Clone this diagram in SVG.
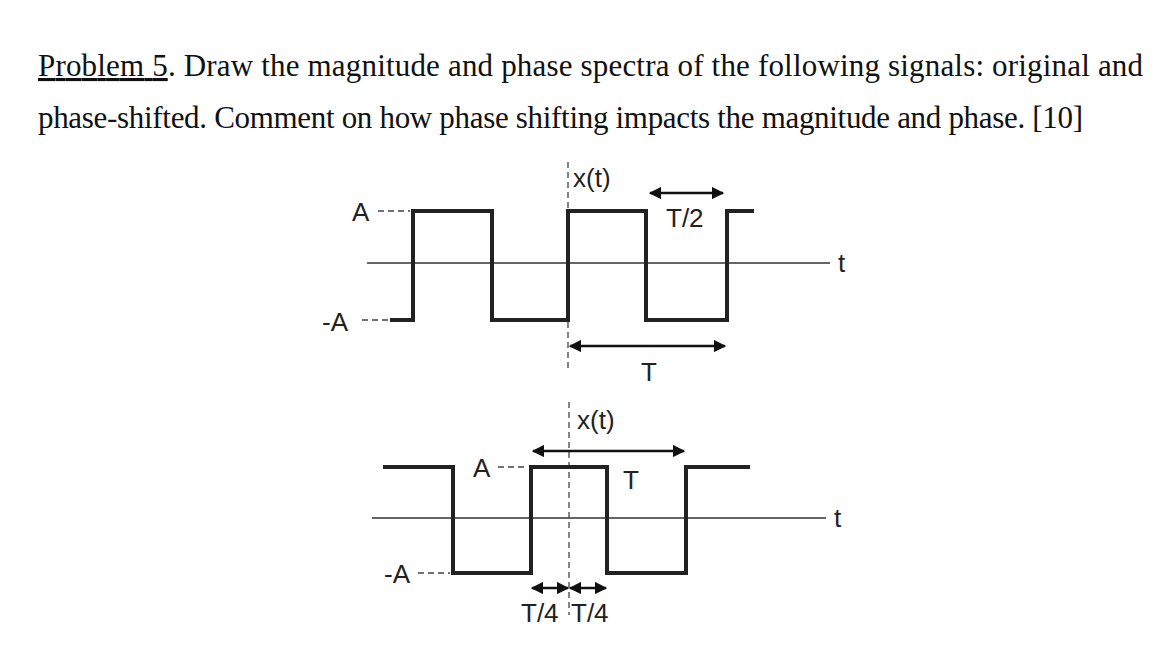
<svg xmlns="http://www.w3.org/2000/svg" width="1167" height="651" viewBox="0 0 1167 651">
<defs>
<marker id="ah" viewBox="0 0 10 10" refX="9" refY="5" markerWidth="5" markerHeight="5" orient="auto-start-reverse"><path d="M0,0L10,5L0,10z" fill="#111"/></marker>
<style>
.hd{font-family:"Liberation Serif",serif;font-size:31px;fill:#111}
.lb{font-family:"Liberation Sans",Arial,sans-serif;font-size:26px;fill:#222}
.wave{fill:none;stroke:#222;stroke-width:4}
.ax{stroke:#333;stroke-width:1.3}
.dash{stroke:#444;stroke-width:1.3;stroke-dasharray:6,4}
.arr{stroke:#111;stroke-width:2.5;marker-start:url(#ah);marker-end:url(#ah)}
</style>
</defs>
<rect width="1167" height="651" fill="#fff"/>
<text class="hd" x="38" y="76" textLength="1105" lengthAdjust="spacing"><tspan text-decoration="underline">Problem 5</tspan>.  Draw the magnitude and phase spectra of the following signals: original and</text>
<text class="hd" x="38" y="128" textLength="1045" lengthAdjust="spacing">phase-shifted. Comment on how phase shifting impacts the magnitude and phase. [10]</text>
<g id="top">
<line class="ax" x1="367" y1="263" x2="830" y2="263"/>
<line class="dash" x1="568" y1="162" x2="568" y2="370"/>
<line class="dash" x1="378" y1="211" x2="410" y2="211"/>
<line class="dash" x1="362" y1="320" x2="390" y2="320"/>
<polyline class="wave" points="390,320 413,320 413,211 492,211 492,320 568,320 568,211 646,211 646,320 727,320 727,211 754,211"/>
<text class="lb" x="838" y="272">t</text>
<text class="lb" x="352" y="221">A</text>
<text class="lb" x="322" y="331">-A</text>
<text class="lb" x="573" y="187">x(t)</text>
<text class="lb" x="666" y="227">T/2</text>
<text class="lb" x="641" y="381">T</text>
</g>
<g id="bottom">
<line class="ax" x1="372" y1="518" x2="826" y2="518"/>
<line class="dash" x1="569" y1="402" x2="569" y2="615"/>
<line class="dash" x1="498" y1="467" x2="528" y2="467"/>
<line class="dash" x1="418" y1="573" x2="450" y2="573"/>
<polyline class="wave" points="383,467 453,467 453,573 531,573 531,467 607,467 607,573 686,573 686,467 750,467"/>
<text class="lb" x="834" y="527">t</text>
<text class="lb" x="473" y="477">A</text>
<text class="lb" x="384" y="583">-A</text>
<text class="lb" x="577" y="429">x(t)</text>
<text class="lb" x="623" y="489">T</text>
<text class="lb" x="521" y="622">T/4</text>
<text class="lb" x="571" y="622">T/4</text>
</g>
<g id="connectors">
<line class="arr" x1="650" y1="193" x2="723" y2="193"/>
<line class="arr" x1="570" y1="346" x2="725" y2="346"/>
<line class="arr" x1="533" y1="451" x2="684" y2="451"/>
<line class="arr" x1="532" y1="588" x2="568" y2="588"/>
<line class="arr" x1="570" y1="588" x2="606" y2="588"/>
</g>
</svg>
